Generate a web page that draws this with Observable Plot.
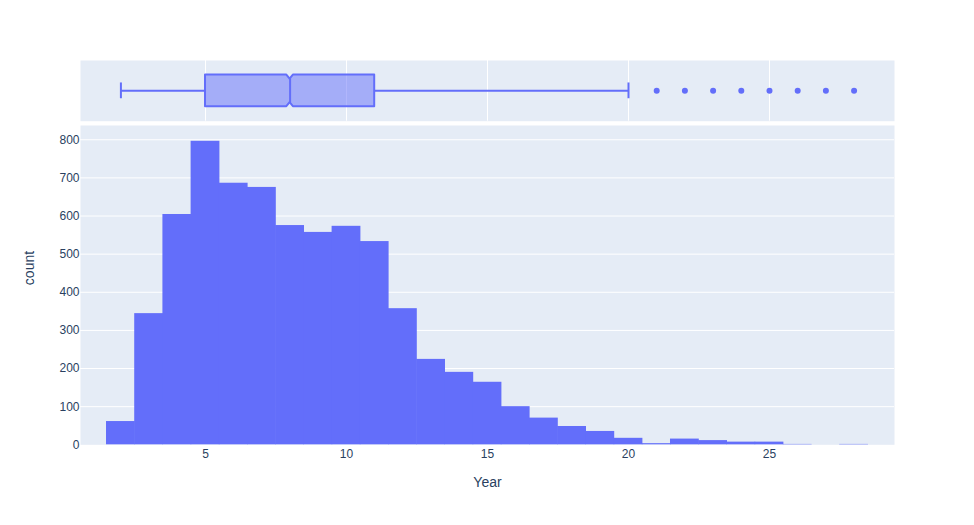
<!DOCTYPE html>
<html>
<head>
<meta charset="utf-8">
<script src="https://cdn.jsdelivr.net/npm/d3@7"></script>
<script src="https://cdn.jsdelivr.net/npm/@observablehq/plot@0.6"></script>
<style>
  html, body { margin: 0; padding: 0; background: white; }
  #chart { width: 974px; height: 525px; }
  #chart svg { display: block; }
</style>
</head>
<body>
<div id="chart"></div>
<script>
// ---- data ----
const years  = [2, 3, 4, 5, 6, 7, 8, 9, 10, 11, 12, 13, 14, 15, 16, 17, 18, 19, 20, 21, 22, 23, 24, 25, 26, 27, 28];
const counts = [61, 344, 604, 796, 686, 675, 575, 557, 573, 533, 357, 224, 190, 164, 100, 70, 48, 35, 17, 3, 15, 11, 7, 7, 1, 0, 1];
const lowerFence = 2;
const q1 = 5;
const median = 8;
const q3 = 11;
const upperFence = 20;
const outliers = [21, 22, 23, 24, 25, 26, 27, 28];
const xTicks = [5, 10, 15, 20, 25];
const yTicks = [0, 100, 200, 300, 400, 500, 600, 700, 800];
const xTitle = "Year";
const yTitle = "count";

// ---- derived ----
const binWidth = 1;
const bins = years.map((y, i) => ({x1: y - binWidth / 2, x2: y + binWidth / 2, count: counts[i]}));
const n = d3.sum(counts);
const notchHalf = 1.57 * (q3 - q1) / Math.sqrt(n);
const boxHalf = 0.26;         // fraction of the box panel
const notchInset = 0.25 * boxHalf;
const capHalf = 0.5 * boxHalf;
const boxOutline = [
  {x: q1, lo: 0.5 - boxHalf, hi: 0.5 + boxHalf},
  {x: median - notchHalf, lo: 0.5 - boxHalf, hi: 0.5 + boxHalf},
  {x: median, lo: 0.5 - boxHalf + notchInset, hi: 0.5 + boxHalf - notchInset},
  {x: median + notchHalf, lo: 0.5 - boxHalf, hi: 0.5 + boxHalf},
  {x: q3, lo: 0.5 - boxHalf, hi: 0.5 + boxHalf}
];
const whiskers = [{x1: lowerFence, x2: q1}, {x1: q3, x2: upperFence}];

const xDomain = [0.567, 29.433];
const yMax = d3.max(counts) * 1.052;

const blue = "#636efa";
const bg = "#E5ECF6";
const font = '"Liberation Sans", Arial, sans-serif';
const style = {fontFamily: font, fontSize: "12px", color: "#2a3f5f", background: "white", overflow: "visible"};

// ---- marginal box plot ----
const boxPlot = Plot.plot({
  width: 974,
  height: 123,
  marginTop: 60,
  marginBottom: 2.3,
  marginLeft: 80,
  marginRight: 80,
  style,
  x: {domain: xDomain, axis: null},
  y: {domain: [0, 1], axis: null},
  marks: [
    Plot.frame({fill: bg, stroke: "none"}),
    Plot.ruleX(xTicks, {stroke: "white", strokeWidth: 1, strokeOpacity: 1}),
    Plot.ruleY(whiskers, {x1: "x1", x2: "x2", y: () => 0.5, stroke: blue, strokeWidth: 2}),
    Plot.ruleX([lowerFence, upperFence], {x: d => d, y1: () => 0.5 - capHalf, y2: () => 0.5 + capHalf, stroke: blue, strokeWidth: 2}),
    Plot.areaY(boxOutline, {x: "x", y1: "lo", y2: "hi", fill: blue, fillOpacity: 0.5, stroke: blue, strokeWidth: 2, curve: "linear"}),
    Plot.ruleX([median], {x: d => d, y1: () => 0.5 - boxHalf + notchInset, y2: () => 0.5 + boxHalf - notchInset, stroke: blue, strokeWidth: 2}),
    Plot.dot(outliers, {x: d => d, y: () => 0.5, r: 3, fill: blue, stroke: "none"})
  ]
});

// ---- histogram ----
const histPlot = Plot.plot({
  width: 974,
  height: 402,
  marginTop: 2,
  marginBottom: 80.7,
  marginLeft: 80,
  marginRight: 80,
  style,
  x: {domain: xDomain, ticks: xTicks, tickSize: 0, tickPadding: 5, label: null},
  y: {domain: [0, yMax], ticks: yTicks, tickSize: 0, tickPadding: 1, label: null},
  marks: [
    Plot.frame({fill: bg, stroke: "none"}),
    Plot.ruleY(yTicks.filter(t => t > 0), {stroke: "white", strokeWidth: 1, strokeOpacity: 1}),
    Plot.rectY(bins, {x1: "x1", x2: "x2", y: "count", fill: blue, insetLeft: -0.3, insetRight: -0.3}),
    Plot.text([xTitle], {frameAnchor: "bottom", dy: 37.7, lineAnchor: "middle", fontSize: 14, fill: "#2a3f5f"}),
    Plot.text([yTitle], {frameAnchor: "left", dx: -51, rotate: -90, lineAnchor: "middle", fontSize: 14, fill: "#2a3f5f"})
  ]
});

const root = document.getElementById("chart");
root.appendChild(boxPlot);
root.appendChild(histPlot);
</script>
</body>
</html>
